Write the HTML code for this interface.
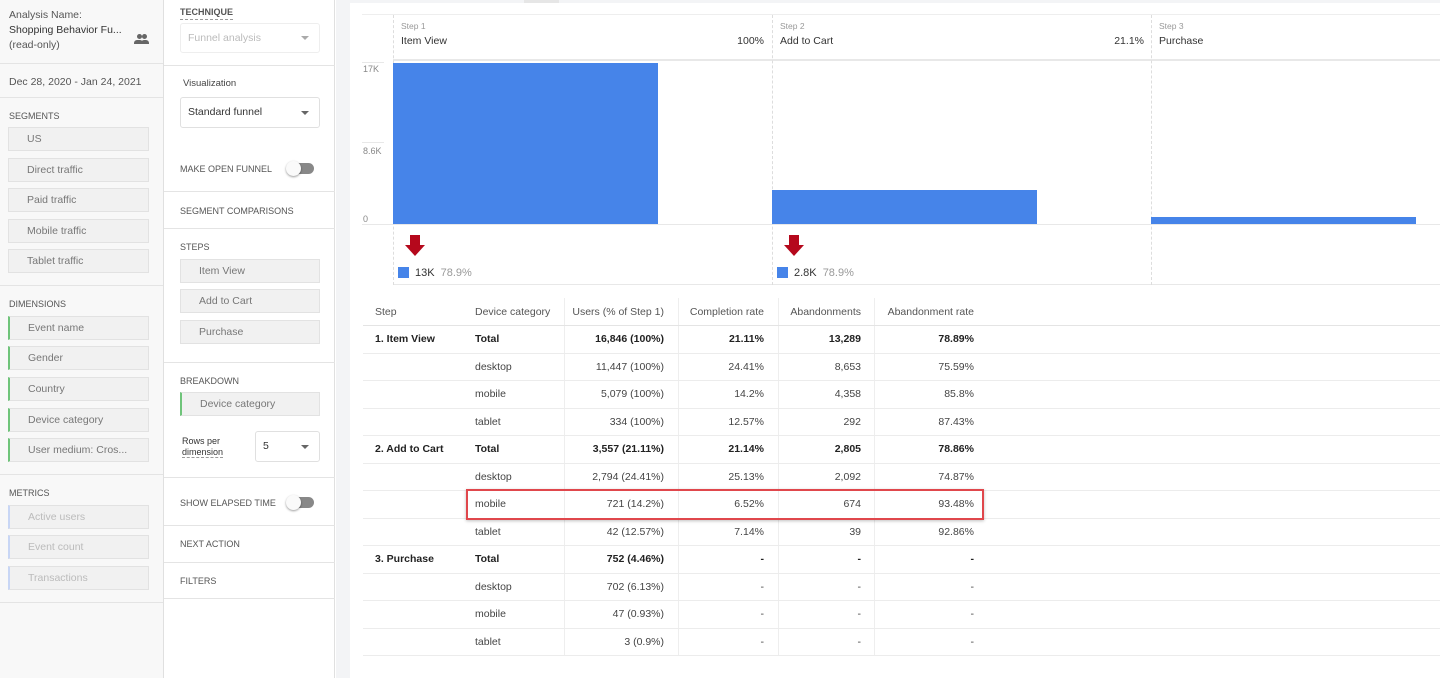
<!DOCTYPE html>
<html><head><meta charset="utf-8"><style>
*{box-sizing:border-box;margin:0;padding:0}
body{width:1440px;height:678px;overflow:hidden;font-family:"Liberation Sans",sans-serif;color:#333;background:#fff;position:relative}
.a{position:absolute}
.lp{left:0;top:0;width:164px;height:678px;background:#f8f8f8;border-right:1px solid #e0e0e0}
.mp{left:164px;top:0;width:171px;height:678px;background:#fff;border-right:1px solid #e0e0e0}
.strip{left:336px;top:0;width:14px;height:678px;background:#f3f4f6}
.hd{font-size:9px;color:#555;text-transform:uppercase}
.chip{position:absolute;height:24px;background:#f1f1f1;border:1px solid #e2e2e2;font-size:10.5px;color:#777;line-height:22px;padding-left:18px}
.g{border-left:2px solid #6fc47a}
.b{border-left:2px solid #c8d6f5;color:#bbb}
.sep{position:absolute;height:1px;background:#e4e4e4}
.tog{position:absolute;width:26px;height:11px;border-radius:6px;background:#888}
.tog:before{content:"";position:absolute;left:-2px;top:-2px;width:15px;height:15px;border-radius:50%;background:#fafafa;box-shadow:0 1px 2px rgba(0,0,0,.4)}
.sel{position:absolute;background:#fff;border:1px solid #e0e0e0;border-radius:3px;font-size:10.5px;padding-left:7px}
.car{position:absolute;right:10px;top:50%;margin-top:-2px;border-left:4px solid transparent;border-right:4px solid transparent;border-top:4px solid #666}
.t{position:absolute;font-size:10.5px;color:#444;white-space:nowrap}
.r{text-align:right}
.bd{font-weight:bold;color:#222}
.dash{position:absolute;width:0;border-left:1px dashed #ddd}
</style></head><body>
<div class="a lp"></div>
<div class="a mp"></div>
<div class="a strip"></div>
<div class="a" style="left:350px;top:0;width:1090px;height:3px;background:#f3f4f6"></div>
<div class="a" style="left:524px;top:0;width:35px;height:3px;background:#e6e6e6"></div>

<!-- left panel -->
<div class="t" style="left:9px;top:9px;color:#555">Analysis Name:</div>
<div class="t" style="left:9px;top:24px;color:#333">Shopping Behavior Fu...</div>
<div class="t" style="left:9px;top:39px;color:#555">(read-only)</div>
<div class="a" style="left:137px;top:34px;width:5px;height:5px;border-radius:50%;background:#666"></div>
<div class="a" style="left:142px;top:34px;width:5px;height:5px;border-radius:50%;background:#666"></div>
<div class="a" style="left:134px;top:40px;width:9px;height:4px;border-radius:3px 3px 0 0;background:#666"></div>
<div class="a" style="left:141px;top:40px;width:8px;height:4px;border-radius:3px 3px 0 0;background:#666"></div>
<div class="sep" style="left:0;top:63px;width:163px"></div>
<div class="t" style="left:9px;top:76px;color:#555">Dec 28, 2020 - Jan 24, 2021</div>
<div class="sep" style="left:0;top:97px;width:163px"></div>
<div class="a hd" style="left:9px;top:111px">Segments</div>
<div class="chip" style="left:8px;top:127px;width:141px">US</div>
<div class="chip" style="left:8px;top:158px;width:141px">Direct traffic</div>
<div class="chip" style="left:8px;top:188px;width:141px">Paid traffic</div>
<div class="chip" style="left:8px;top:219px;width:141px">Mobile traffic</div>
<div class="chip" style="left:8px;top:249px;width:141px">Tablet traffic</div>
<div class="sep" style="left:0;top:285px;width:163px"></div>
<div class="a hd" style="left:9px;top:299px">Dimensions</div>
<div class="chip g" style="left:8px;top:316px;width:141px">Event name</div>
<div class="chip g" style="left:8px;top:346px;width:141px">Gender</div>
<div class="chip g" style="left:8px;top:377px;width:141px">Country</div>
<div class="chip g" style="left:8px;top:408px;width:141px">Device category</div>
<div class="chip g" style="left:8px;top:438px;width:141px">User medium: Cros...</div>
<div class="sep" style="left:0;top:474px;width:163px"></div>
<div class="a hd" style="left:9px;top:488px">Metrics</div>
<div class="chip b" style="left:8px;top:505px;width:141px">Active users</div>
<div class="chip b" style="left:8px;top:535px;width:141px">Event count</div>
<div class="chip b" style="left:8px;top:566px;width:141px">Transactions</div>
<div class="sep" style="left:0;top:602px;width:163px"></div>

<!-- middle panel -->
<div class="a hd" style="left:180px;top:7px;font-weight:bold;border-bottom:1px dashed #999;padding-bottom:2px">Technique</div>
<div class="sel" style="left:180px;top:23px;width:140px;height:30px;line-height:28px;color:#bbb;border-color:#eee">Funnel analysis<span class="car" style="border-top-color:#aaa"></span></div>
<div class="sep" style="left:164px;top:65px;width:171px"></div>
<div class="t" style="left:183px;top:78px;font-size:9.5px;color:#444">Visualization</div>
<div class="sel" style="left:180px;top:97px;width:140px;height:31px;line-height:29px;color:#333">Standard funnel<span class="car"></span></div>
<div class="a hd" style="left:180px;top:164px">Make open funnel</div>
<div class="tog" style="left:288px;top:163px"></div>
<div class="sep" style="left:164px;top:191px;width:171px"></div>
<div class="a hd" style="left:180px;top:206px">Segment comparisons</div>
<div class="sep" style="left:164px;top:228px;width:171px"></div>
<div class="a hd" style="left:180px;top:242px">Steps</div>
<div class="chip" style="left:180px;top:259px;width:140px">Item View</div>
<div class="chip" style="left:180px;top:289px;width:140px">Add to Cart</div>
<div class="chip" style="left:180px;top:320px;width:140px">Purchase</div>
<div class="sep" style="left:164px;top:362px;width:171px"></div>
<div class="a hd" style="left:180px;top:376px">Breakdown</div>
<div class="chip g" style="left:180px;top:392px;width:140px">Device category</div>
<div class="t" style="left:182px;top:436px;font-size:9px;line-height:11px;color:#333">Rows per<br><span style="border-bottom:1px dashed #999">dimension</span></div>
<div class="sel" style="left:255px;top:431px;width:65px;height:31px;line-height:29px">5<span class="car"></span></div>
<div class="sep" style="left:164px;top:477px;width:171px"></div>
<div class="a hd" style="left:180px;top:498px">Show elapsed time</div>
<div class="tog" style="left:288px;top:497px"></div>
<div class="sep" style="left:164px;top:525px;width:171px"></div>
<div class="a hd" style="left:180px;top:539px">Next action</div>
<div class="sep" style="left:164px;top:562px;width:171px"></div>
<div class="a hd" style="left:180px;top:576px">Filters</div>
<div class="sep" style="left:164px;top:598px;width:171px"></div>

<!-- chart -->
<div class="sep" style="left:362px;top:14px;width:1078px;background:#eee"></div>
<div class="sep" style="left:393px;top:59px;width:1047px;height:2px;background:#e8e8e8"></div>
<div class="sep" style="left:362px;top:224px;width:1078px;background:#e8e8e8"></div>
<div class="sep" style="left:393px;top:284px;width:1047px;background:#e8e8e8"></div>
<div class="sep" style="left:362px;top:62px;width:22px;background:#e8e8e8"></div>
<div class="sep" style="left:362px;top:142px;width:22px;background:#e8e8e8"></div>
<div class="dash" style="left:393px;top:15px;height:270px"></div>
<div class="dash" style="left:772px;top:15px;height:270px"></div>
<div class="dash" style="left:1151px;top:15px;height:270px"></div>
<div class="t" style="left:363px;top:64px;font-size:9px;color:#888">17K</div>
<div class="t" style="left:363px;top:146px;font-size:9px;color:#888">8.6K</div>
<div class="t" style="left:363px;top:214px;font-size:9px;color:#888">0</div>
<div class="t" style="left:401px;top:21px;font-size:8.5px;color:#999">Step 1</div>
<div class="t" style="left:401px;top:35px;color:#333">Item View</div>
<div class="t r" style="left:700px;top:35px;width:64px;color:#333">100%</div>
<div class="t" style="left:780px;top:21px;font-size:8.5px;color:#999">Step 2</div>
<div class="t" style="left:780px;top:35px;color:#333">Add to Cart</div>
<div class="t r" style="left:1080px;top:35px;width:64px;color:#333">21.1%</div>
<div class="t" style="left:1159px;top:21px;font-size:8.5px;color:#999">Step 3</div>
<div class="t" style="left:1159px;top:35px;color:#333">Purchase</div>
<div class="a" style="left:393px;top:63px;width:265px;height:161px;background:#4684e9"></div>
<div class="a" style="left:772px;top:190px;width:265px;height:34px;background:#4684e9"></div>
<div class="a" style="left:1151px;top:217px;width:265px;height:7px;background:#4684e9"></div>
<!-- arrows -->
<div class="a" style="left:410px;top:235px;width:10px;height:11px;background:#b5081c"></div>
<div class="a" style="left:405px;top:245px;width:0;height:0;border-left:10px solid transparent;border-right:10px solid transparent;border-top:11px solid #b5081c"></div>
<div class="a" style="left:789px;top:235px;width:10px;height:11px;background:#b5081c"></div>
<div class="a" style="left:784px;top:245px;width:0;height:0;border-left:10px solid transparent;border-right:10px solid transparent;border-top:11px solid #b5081c"></div>
<div class="a" style="left:398px;top:267px;width:11px;height:11px;background:#4684e9"></div>
<div class="t" style="left:415px;top:267px;font-size:11px;color:#333">13K <span style="color:#999;margin-left:3px">78.9%</span></div>
<div class="a" style="left:777px;top:267px;width:11px;height:11px;background:#4684e9"></div>
<div class="t" style="left:794px;top:267px;font-size:11px;color:#333">2.8K <span style="color:#999;margin-left:3px">78.9%</span></div>

<!-- table -->
<div class="a" style="left:564px;top:298px;width:1px;height:357px;background:#eee"></div>
<div class="a" style="left:678px;top:298px;width:1px;height:357px;background:#eee"></div>
<div class="a" style="left:778px;top:298px;width:1px;height:357px;background:#eee"></div>
<div class="a" style="left:874px;top:298px;width:1px;height:357px;background:#eee"></div>
<div class="sep" style="left:363px;top:325px;width:1077px;background:#e4e4e4"></div>
<div class="t" style="left:375px;top:306px;color:#555">Step</div>
<div class="t" style="left:475px;top:306px;color:#555">Device category</div>
<div class="t r" style="left:564px;top:306px;width:100px;color:#555">Users (% of Step 1)</div>
<div class="t r" style="left:664px;top:306px;width:100px;color:#555">Completion rate</div>
<div class="t r" style="left:761px;top:306px;width:100px;color:#555">Abandonments</div>
<div class="t r" style="left:874px;top:306px;width:100px;color:#555">Abandonment rate</div>
<div id="rows"></div>
<script>
var d=[["1. Item View","Total","16,846 (100%)","21.11%","13,289","78.89%"],
["","desktop","11,447 (100%)","24.41%","8,653","75.59%"],
["","mobile","5,079 (100%)","14.2%","4,358","85.8%"],
["","tablet","334 (100%)","12.57%","292","87.43%"],
["2. Add to Cart","Total","3,557 (21.11%)","21.14%","2,805","78.86%"],
["","desktop","2,794 (24.41%)","25.13%","2,092","74.87%"],
["","mobile","721 (14.2%)","6.52%","674","93.48%"],
["","tablet","42 (12.57%)","7.14%","39","92.86%"],
["3. Purchase","Total","752 (4.46%)","-","-","-"],
["","desktop","702 (6.13%)","-","-","-"],
["","mobile","47 (0.93%)","-","-","-"],
["","tablet","3 (0.9%)","-","-","-"]];
var h="";var R=[664,764,861,974];
d.forEach(function(r,i){var y=333+27.5*i;var b=r[1]=="Total"?" bd":"";
h+='<div class="t bd" style="left:375px;top:'+y+'px">'+r[0]+'</div>';
h+='<div class="t'+b+'" style="left:475px;top:'+y+'px">'+r[1]+'</div>';
for(var k=0;k<4;k++)h+='<div class="t r'+b+'" style="left:'+(R[k]-120)+'px;width:120px;top:'+y+'px">'+r[k+2]+'</div>';
h+='<div class="sep" style="left:363px;top:'+(352.5+27.5*i)+'px;width:1077px;background:#ececec"></div>';});
document.getElementById("rows").innerHTML=h;
</script>
<div class="a" style="left:466px;top:489px;width:518px;height:31px;border:2px solid #e0474c;box-shadow:0 1px 3px rgba(0,0,0,.25)"></div>
</body></html>
